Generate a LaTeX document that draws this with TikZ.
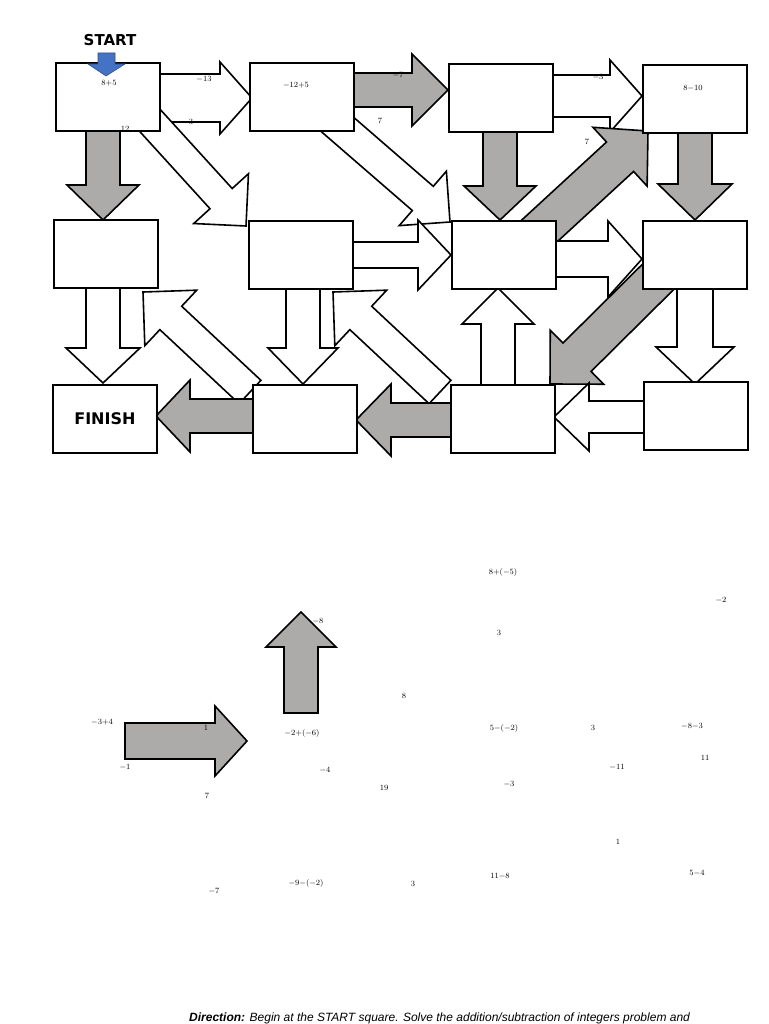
\documentclass[tikz,border=0pt]{standalone}
\usepackage{fontspec}
\newfontfamily\lsans{Liberation Sans}
\newfontfamily\dsans{DejaVu Sans}
\newcommand{\barrow}[8]{%
\pgfmathsetmacro\bang{atan2((#3)-(#5),(#4)-(#2))}%
\pgfmathsetmacro\blen{veclen((#4)-(#2),(#5)-(#3))}%
\pgfmathsetmacro\bhb{\blen-(#8)}%
\draw[arrowbox,fill=#1,shift={(#2,-#3)},rotate=\bang] (0,-#6)--(\bhb,-#6)--(\bhb,-#7)--(\blen,0)--(\bhb,#7)--(\bhb,#6)--(0,#6)--cycle;}
\definecolor{ag}{RGB}{173,170,170}
\definecolor{ab}{RGB}{68,114,196}
\begin{document}
\begin{tikzpicture}[x=1pt,y=1pt,
  arrowbox/.style={draw=black,line width=1.6pt,line join=miter},
  sq/.style={draw=black,line width=1.8pt,fill=white,minimum width=104pt,minimum height=68pt,inner sep=0pt,anchor=north west},
  lab/.style={font=\fontsize{8}{9}\selectfont,inner sep=0pt}]
\useasboundingbox (0,0) rectangle (768,-1024);
\fill[white] (0,0) rectangle (768,-1024);
% top row horizontal
\barrow{white}{150}{98}{252}{98}{24}{36}{32}
\barrow{ag}{345}{90}{448}{90}{17}{36}{36}
\barrow{white}{545}{96}{642}{96}{21}{36}{32}
% down gray
\barrow{ag}{103}{125}{103}{220}{17}{36}{35}
\barrow{ag}{500}{125}{500}{220}{17}{36}{34}
\barrow{ag}{695}{125}{695}{220}{17}{37}{36}
% diagonals
\barrow{white}{145}{115}{246}{226}{15}{37}{37}
\barrow{white}{330}{118}{450}{222}{16}{36}{36}
\barrow{ag}{535}{235}{648}{131}{20}{40}{38}
\barrow{ag}{665}{270}{550}{384}{20}{38}{38}
\barrow{white}{250}{392}{143}{292}{16}{38}{38}
\barrow{white}{440}{392}{333}{292}{16}{38}{38}
% row2 horizontal
\barrow{white}{345}{255}{451}{255}{13}{35}{33}
\barrow{white}{548}{259}{642}{259}{18}{38}{34}
% row2 to row3
\barrow{white}{103}{280}{103}{383}{17}{37}{35}
\barrow{white}{303}{280}{303}{384}{17}{35}{36}
\barrow{white}{695}{280}{695}{384}{18}{39}{37}
\barrow{white}{498}{390}{498}{288}{17}{36}{36}
% row3 left
\barrow{ag}{260}{416}{156}{416}{17}{36}{34}
\barrow{ag}{458}{420}{356}{420}{17}{36}{35}
\barrow{white}{650}{417}{554}{417}{16}{34}{35}
% boxes
\node[sq] (a1) at (55,-62) {};
\node[sq] (a2) at (249,-62) {};
\node[sq] (a3) at (448,-63) {};
\node[sq] (a4) at (642,-64) {};
\node[sq] (b1) at (53,-219) {};
\node[sq] (b2) at (248,-220) {};
\node[sq] (b3) at (451,-220) {};
\node[sq] (b4) at (642,-220) {};
\node[sq,font=\dsans\bfseries\fontsize{16}{18}\selectfont] (c1) at (52,-384) {FINISH};
\node[sq] (c2) at (252,-384) {};
\node[sq] (c3) at (450,-384) {};
\node[sq] (c4) at (643,-381) {};
% start
\node[font=\dsans\bfseries\fontsize{15}{17}\selectfont] (start) at (110,-40) {START};
\draw[fill=ab,draw=ab!70!black,line width=0.6pt] (98,-53)--(115,-53)--(115,-64)--(125,-64)--(106,-76)--(88,-64)--(98,-64)--cycle;
% labels in maze
\node[lab] (l1) at (109,-83) {8+5};
\node[lab] (l2) at (204,-79) {$-$13};
\node[lab] (l3) at (296,-85) {$-$12+5};
\node[lab] (l4) at (398,-75) {$-$7};
\node[lab] (l5) at (598,-77) {$-$3};
\node[lab] (l6) at (693,-88) {8$-$10};
\node[lab] (l7) at (191,-122) {3};
\node[lab] (l8) at (380,-121) {7};
\node[lab] (l9) at (125,-129) {12};
\node[lab] (l10) at (587,-142) {7};
% lower arrows
\barrow{ag}{125}{741}{247}{741}{18}{35}{32}
\barrow{ag}{301}{713}{301}{612}{17}{35}{35}
% lower labels
\node[lab] at (503,-572) {8+($-$5)};
\node[lab] at (721,-600) {$-$2};
\node[lab] at (318,-621) {$-$8};
\node[lab] at (499,-633) {3};
\node[lab] at (404,-696) {8};
\node[lab] at (102,-722) {$-$3+4};
\node[lab] at (206,-728) {1};
\node[lab] at (302,-733) {$-$2+($-$6)};
\node[lab] at (504,-728) {5$-$($-$2)};
\node[lab] at (593,-728) {3};
\node[lab] at (692,-726) {$-$8$-$3};
\node[lab] at (705,-758) {11};
\node[lab] at (125,-767) {$-$1};
\node[lab] at (325,-770) {$-$4};
\node[lab] at (617,-767) {$-$11};
\node[lab] at (384,-788) {19};
\node[lab] at (509,-784) {$-$3};
\node[lab] at (207,-796) {7};
\node[lab] at (618,-842) {1};
\node[lab] at (500,-876) {11$-$8};
\node[lab] at (697,-873) {5$-$4};
\node[lab] at (214,-891) {$-$7};
\node[lab] at (306,-883) {$-$9$-$($-$2)};
\node[lab] at (413,-884) {3};
\node[anchor=west,inner sep=0pt,font=\lsans\itshape\fontsize{12}{14}\selectfont] (dir) at (189,-1018) {\textbf{Direction:} Begin at the START square. Solve the addition/subtraction of integers problem and};
\end{tikzpicture}
\end{document}
